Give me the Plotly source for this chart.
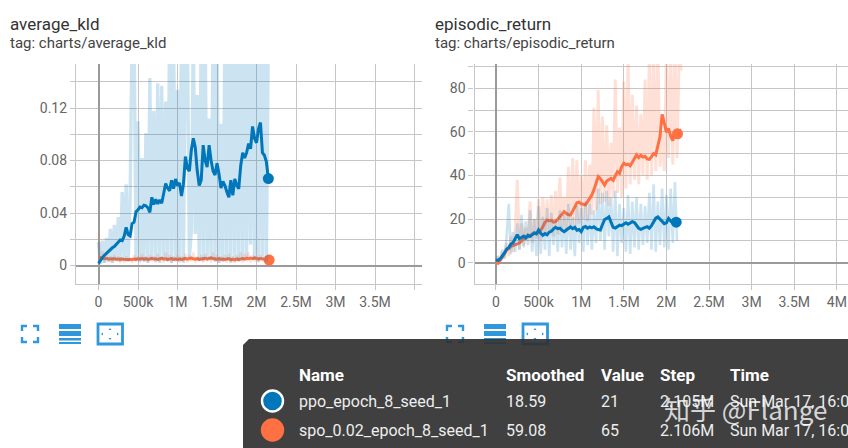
import plotly.graph_objects as go

W = 848
H = 448

# step axis shared by all runs, value lists are cut to their own length
steps = [
    0, 25000, 50000, 75000, 100000, 125000, 150000, 175000, 200000, 225000,
    250000, 275000, 300000, 325000, 350000, 375000, 400000, 425000, 450000, 475000,
    500000, 525000, 550000, 575000, 600000, 625000, 650000, 675000, 700000, 725000,
    750000, 775000, 800000, 825000, 850000, 875000, 900000, 925000, 950000, 975000,
    1000000, 1025000, 1050000, 1075000, 1100000, 1125000, 1150000, 1175000, 1200000, 1225000,
    1250000, 1275000, 1300000, 1325000, 1350000, 1375000, 1400000, 1425000, 1450000, 1475000,
    1500000, 1525000, 1550000, 1575000, 1600000, 1625000, 1650000, 1675000, 1700000, 1725000,
    1750000, 1775000, 1800000, 1825000, 1850000, 1875000, 1900000, 1925000, 1950000, 1975000,
    2000000, 2025000, 2050000, 2075000, 2100000, 2125000, 2150000, 2175000,
]

kld_ppo_raw = [
    .018, .001, .019, .002, .021, .003, .028, .002, .031, .004,
    .037, .003, .056, .004, .062, .003, .050, .180, .180, .004,
    .110, .003, .082, .003, .101, .002, .143, .004, .118, .003,
    .139, .002, .137, .005, .125, .003, .180, .002, .180, .004,
    .134, .003, .180, .002, .180, .180, .006, .026, .180, .024,
    .130, .004, .180, .003, .180, .005, .112, .004, .180, .003,
    .180, .002, .108, .003, .180, .004, .180, .002, .180, .005,
    .180, .003, .180, .004, .180, .006, .180, .016, .180, .004,
    .180, .003, .180, .005, .180, .003, .180,
]
kld_ppo_smooth = [
    .0015, .0040, .0062, .0078, .0092, .0110, .0125, .0135, .0145, .0160,
    .0175, .0195, .0190, .0225, .0290, .0235, .0225, .0320, .0330, .0410,
    .0425, .0445, .0440, .0460, .0455, .0440, .0405, .0520, .0465, .0505,
    .0470, .0500, .0475, .0560, .0625, .0590, .0570, .0650, .0585, .0660,
    .0610, .0630, .0530, .0620, .0830, .0740, .0720, .0880, .0970, .0900,
    .0720, .0610, .0650, .0917, .0800, .0750, .0917, .0800, .0720, .0690,
    .0780, .0700, .0590, .0640, .0610, .0560, .0520, .0650, .0535, .0660,
    .0610, .0585, .0760, .0860, .0820, .0860, .0930, .0890, .1060, .0970,
    .0935, .1040, .1090, .0860, .0840, .0790, .0663,
]
kld_spo_raw = [
    .025, .003, .011, .002, .008, .003, .007, .002, .008, .003,
    .007, .002, .006, .002, .007, .003, .006, .002, .008, .003,
    .007, .002, .009, .003, .007, .002, .008, .003, .007, .002,
    .009, .003, .007, .002, .010, .003, .008, .002, .007, .003,
    .008, .002, .007, .003, .009, .002, .008, .003, .010, .002,
    .007, .003, .008, .002, .009, .003, .007, .002, .010, .003,
    .008, .002, .007, .003, .008, .002, .009, .003, .007, .002,
    .008, .003, .010, .002, .009, .003, .010, .002, .008, .003,
    .007, .002, .008, .003, .006, .002, .005,
]
kld_spo_smooth = [
    .0065, .0058, .0053, .0052, .0054, .0050, .0052, .0049, .0051, .0048,
    .0050, .0047, .0049, .0046, .0045, .0048, .0044, .0046, .0050, .0046,
    .0051, .0049, .0053, .0048, .0052, .0047, .0050, .0054, .0049, .0052,
    .0047, .0051, .0055, .0048, .0051, .0046, .0050, .0053, .0047, .0049,
    .0045, .0051, .0047, .0050, .0054, .0048, .0052, .0056, .0051, .0048,
    .0052, .0046, .0050, .0053, .0055, .0049, .0052, .0058, .0053, .0050,
    .0047, .0052, .0048, .0050, .0046, .0049, .0052, .0044, .0048, .0042,
    .0050, .0046, .0051, .0053, .0049, .0055, .0051, .0056, .0052, .0058,
    .0054, .0050, .0053, .0049, .0046, .0044, .0041,
]
kld_last_steps = [2150000, 2160000]
kld_last_values = [.0663, .0041]

ret_ppo_raw = [
    1, 3, 1, 6, 2, 12, 27, 4, 14, 5,
    18, 6, 22, 7, 19, 8, 24, 5, 20, 3,
    26, 4, 21, 6, 25, 3, 23, 8, 20, 5,
    24, 7, 22, 4, 27, 6, 21, 3, 26, 9,
    25, 5, 28, 8, 27, 6, 24, 9, 34, 10,
    32, 6, 33, 12, 30, 5, 33, 3, 27, 9,
    25, 5, 31, 4, 28, 7, 30, 6, 27, 8,
    26, 9, 32, 6, 36, 5, 28, 8, 34, 7,
    31, 6, 34, 9, 37, 10,
]
ret_ppo_smooth = [
    1.2, 1.0, 1.8, 3.0, 4.5, 6.2, 7.0, 8.5, 9.2, 11.0,
    12.8, 11.0, 11.5, 12.2, 11.3, 12.6, 12.0, 13.0, 13.6, 13.2,
    15.0, 13.5, 12.6, 13.4, 12.8, 14.0, 14.4, 15.5, 16.2, 15.6,
    15.8, 14.8, 14.2, 15.0, 15.8, 16.4, 15.6, 16.2, 14.9, 15.2,
    14.2, 16.2, 16.6, 15.8, 16.4, 16.0, 16.5, 15.6, 15.2, 15.0,
    17.5, 19.8, 20.3, 21.0, 18.6, 16.2, 15.9, 16.6, 17.2, 17.0,
    17.7, 18.3, 17.6, 18.1, 18.8, 18.4, 16.8, 15.8, 15.3, 15.9,
    16.2, 16.5, 15.8, 17.0, 18.8, 20.4, 21.0, 20.0, 18.9, 17.9,
    18.3, 20.3, 19.1, 18.4, 18.7, 18.6,
]
ret_spo_raw = [
    0, 2, 1, 5, 2, 9, 3, 12, 5, 14,
    38, 6, 18, 8, 16, 10, 28, 9, 20, 11,
    29, 10, 30, 12, 29, 14, 31, 12, 33, 13,
    39, 15, 30, 14, 44, 15, 48, 16, 47, 18,
    40, 20, 47, 19, 45, 22, 71, 24, 79, 27,
    67, 28, 63, 26, 55, 30, 84, 32, 62, 30,
    83, 34, 92, 36, 77, 38, 72, 36, 68, 40,
    84, 38, 95, 40, 100, 42, 98, 44, 60, 42,
    95, 48, 100, 45, 97, 48, 96, 88,
]
ret_spo_smooth = [
    0.2, -0.3, 1.0, 2.5, 4.0, 5.8, 6.5, 7.5, 7.8, 8.2,
    8.4, 9.0, 10.0, 11.0, 12.0, 11.8, 12.4, 13.2, 13.8, 13.4,
    14.2, 14.8, 16.5, 18.5, 19.6, 19.2, 19.4, 18.6, 18.8, 20.0,
    21.0, 22.5, 23.4, 22.6, 22.0, 21.9, 23.5, 25.5, 27.5, 27.8,
    27.0, 26.6, 26.5, 28.0, 29.6, 31.0, 33.5, 37.0, 39.5, 38.5,
    37.0, 35.6, 37.4, 38.0, 38.7, 37.8, 40.0, 41.7, 41.0, 44.0,
    45.6, 44.9, 45.2, 44.4, 46.0, 47.5, 49.4, 48.2, 49.2, 48.4,
    48.8, 47.6, 47.4, 48.6, 50.0, 49.4, 53.0, 57.8, 68.0, 63.0,
    59.8, 61.6, 58.0, 56.0, 60.0, 57.0, 60.4, 60.9,
]
ret_last_steps = [2115000, 2130000]
ret_last_values = [18.59, 59.08]

x_tickvals = [0, 500000, 1000000, 1500000, 2000000, 2500000, 3000000, 3500000, 4000000]
x_ticktext_kld = ['0', '500k', '1M', '1.5M', '2M', '2.5M', '3M', '3.5M', '']
x_ticktext_ret = ['0', '500k', '1M', '1.5M', '2M', '2.5M', '3M', '3.5M', '4M']
kld_tickvals = [0, .02, .04, .06, .08, .1, .12, .14]
kld_ticktext = ['0', '', '0.04', '', '0.08', '', '0.12', '']
ret_tickvals = [0, 10, 20, 30, 40, 50, 60, 70, 80, 90]
ret_ticktext = ['0', '', '20', '', '40', '', '60', '', '80', '']

table_columns = ['Name', 'Smoothed', 'Value', 'Step', 'Time']
table_ppo = ['ppo_epoch_8_seed_1', '18.59', '21', '2.105M', 'Sun Mar 17, 16:0']
table_spo = ['spo_0.02_epoch_8_seed_1', '59.08', '65', '2.106M', 'Sun Mar 17, 16:0']

BLUE = '#0077bb'
ORANGE = '#ff7043'
ICON = '#2f97dc'
GRID = '#c6c6c6'
FONT = 'Roboto'


def px(x):
    return x / W


def py(y):
    return 1 - y / H


def add_run(fig, raw, smooth, last_step, last_value, color, raw_color, raw_width, xa, ya):
    fig.add_trace(go.Scatter(x=steps[:len(raw)], y=raw, mode='lines', xaxis=xa, yaxis=ya,
                             line=dict(color=raw_color, width=raw_width)))
    fig.add_trace(go.Scatter(x=steps[:len(smooth)], y=smooth, mode='lines', xaxis=xa, yaxis=ya,
                             line=dict(color=color, width=3)))
    fig.add_trace(go.Scatter(x=[last_step], y=[last_value], mode='markers', xaxis=xa, yaxis=ya,
                             marker=dict(color=color, size=11)))


def rect(x0, y0, x1, y1, color):
    return dict(type='rect', xref='paper', yref='paper', x0=px(x0), x1=px(x1), y0=py(y0), y1=py(y1),
                fillcolor=color, line_width=0)


def path(points, color=None, line=None, width=2.4):
    d = 'M ' + ' L '.join(f'{px(x):.5f} {py(y):.5f}' for x, y in points)
    if color:
        d += ' Z'
    return dict(type='path', xref='paper', yref='paper', path=d, fillcolor=color,
                line=dict(color=line or 'rgba(0,0,0,0)', width=width if line else 0))


def icons(dx):
    out = []
    # fullscreen corners
    for cx, cy, sx, sy in [(22, 326, 1, 1), (38, 326, -1, 1), (22, 342, 1, -1), (38, 342, -1, -1)]:
        out.append(path([(dx + cx, cy + 5 * sy), (dx + cx, cy), (dx + cx + 5 * sx, cy)], line=ICON))
    # hamburger bars
    out.append(rect(dx + 59, 324, dx + 81, 329, ICON))
    out.append(rect(dx + 59, 331, dx + 81, 336, ICON))
    out.append(rect(dx + 59, 338, dx + 81, 340.5, ICON))
    out.append(rect(dx + 59, 342, dx + 81, 344, ICON))
    # fit to domain box
    out.append(dict(type='rect', xref='paper', yref='paper', x0=px(dx + 98), x1=px(dx + 122.5), y0=py(324), y1=py(344),
                    line=dict(color=ICON, width=2.8), fillcolor='rgba(0,0,0,0)'))
    out.append(path([(dx + 108.5, 330), (dx + 111.5, 330), (dx + 110, 328)], color=ICON))
    out.append(path([(dx + 108.5, 338), (dx + 111.5, 338), (dx + 110, 340)], color=ICON))
    out.append(path([(dx + 103, 332.5), (dx + 103, 335.5), (dx + 101, 334)], color=ICON))
    out.append(path([(dx + 117, 332.5), (dx + 117, 335.5), (dx + 119, 334)], color=ICON))
    return out


def label(x, y, text, size, color, bold=False, family=FONT):
    return dict(xref='paper', yref='paper', x=px(x), y=py(y), text=f'<b>{text}</b>' if bold else text,
                showarrow=False, xanchor='left', yanchor='middle', align='left',
                font=dict(family=family, size=size, color=color), borderpad=0)


fig = go.Figure()
# spo first, ppo draws over it
add_run(fig, kld_spo_raw, kld_spo_smooth, kld_last_steps[1], kld_last_values[1],
        ORANGE, 'rgba(255,112,67,0.2)', 2, 'x', 'y')
add_run(fig, kld_ppo_raw, kld_ppo_smooth, kld_last_steps[0], kld_last_values[0],
        BLUE, 'rgba(0,119,187,0.2)', 3.4, 'x', 'y')
add_run(fig, ret_spo_raw, ret_spo_smooth, ret_last_steps[1], ret_last_values[1],
        ORANGE, 'rgba(255,112,67,0.22)', 3, 'x2', 'y2')
add_run(fig, ret_ppo_raw, ret_ppo_smooth, ret_last_steps[0], ret_last_values[0],
        BLUE, 'rgba(0,119,187,0.2)', 2.6, 'x2', 'y2')

axis_style = dict(showgrid=True, gridcolor=GRID, gridwidth=1.2, showline=True, linecolor=GRID, linewidth=1.2,
                  ticks='outside', ticklen=5, tickcolor=GRID, tickwidth=1.2,
                  zeroline=True, zerolinecolor='#9a9a9a', zerolinewidth=2,
                  tickfont=dict(family=FONT, size=14, color='#666666'), tickmode='array', fixedrange=True)

shapes = icons(0) + icons(425)
# table panel sits over the icons of the right chart
shapes.append(path([(243, 448), (243, 345), (249, 339), (848, 339), (848, 448)], color='rgba(50,50,50,0.93)'))
for cy, color, edge in [(401, BLUE, 'white'), (430, ORANGE, ORANGE)]:
    shapes.append(dict(type='circle', xref='paper', yref='paper', x0=px(262), x1=px(283), y0=py(cy + 10.5), y1=py(cy - 10.5),
                       fillcolor=color, line=dict(color=edge, width=2.4)))

annotations = [
    label(9, 24, 'average_kld', 17, '#333333'),
    label(9, 43, 'tag: charts/average_kld', 15, '#444444'),
    label(434, 24, 'episodic_return', 17, '#333333'),
    label(434, 43, 'tag: charts/episodic_return', 15, '#444444'),
]
table_x = [298, 505, 600, 659, 729]
for x, name in zip(table_x, table_columns):
    annotations.append(label(x, 375, name, 17, 'white', bold=True))
for x, cell in zip(table_x, table_ppo):
    annotations.append(label(x, 401, cell, 16, '#eeeeee'))
for x, cell in zip(table_x, table_spo):
    annotations.append(label(x, 430, cell, 16, '#eeeeee'))
annotations.append(label(663, 408, '知乎 @Flange', 26, 'rgba(255,255,255,0.8)', family='Noto Sans CJK SC'))

fig.update_layout(
    width=W, height=H, autosize=False,
    margin=dict(l=0, r=0, t=0, b=0),
    paper_bgcolor='white', plot_bgcolor='white',
    showlegend=False, hovermode=False,
    xaxis=dict(domain=[px(76), px(422)], range=[-285000, 4095000], anchor='y',
               tickvals=x_tickvals, ticktext=x_ticktext_kld, **axis_style),
    yaxis=dict(domain=[py(284), py(64)], range=[-.0141, .1536], anchor='x',
               tickvals=kld_tickvals, ticktext=kld_ticktext, **axis_style),
    xaxis2=dict(domain=[px(474.5), 1], range=[-252000, 4131000], anchor='y2',
                tickvals=x_tickvals, ticktext=x_ticktext_ret, **axis_style),
    yaxis2=dict(domain=[py(284), py(64)], range=[-9.77, 91.1], anchor='x2',
                tickvals=ret_tickvals, ticktext=ret_ticktext, **axis_style),
    shapes=shapes,
    annotations=annotations,
)

fig.write_html("out.html", config=dict(displayModeBar=False),
               post_script="document.body.style.margin='0';document.body.style.overflow='hidden';")
